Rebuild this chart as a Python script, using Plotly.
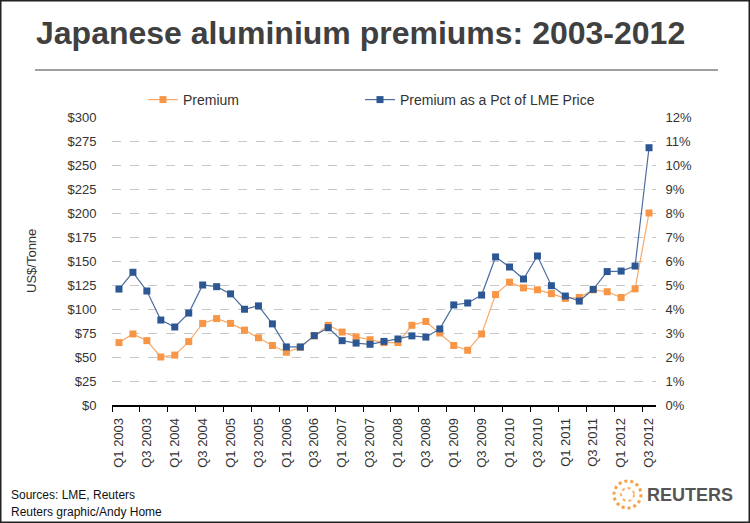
import plotly.graph_objects as go

quarters = [
    "Q1 2003", "Q2 2003", "Q3 2003", "Q4 2003",
    "Q1 2004", "Q2 2004", "Q3 2004", "Q4 2004",
    "Q1 2005", "Q2 2005", "Q3 2005", "Q4 2005",
    "Q1 2006", "Q2 2006", "Q3 2006", "Q4 2006",
    "Q1 2007", "Q2 2007", "Q3 2007", "Q4 2007",
    "Q1 2008", "Q2 2008", "Q3 2008", "Q4 2008",
    "Q1 2009", "Q2 2009", "Q3 2009", "Q4 2009",
    "Q1 2010", "Q2 2010", "Q3 2010", "Q4 2010",
    "Q1 2011", "Q2 2011", "Q3 2011", "Q4 2011",
    "Q1 2012", "Q2 2012", "Q3 2012",
]

premium_usd = [
    65, 74, 67, 50, 52, 66, 85, 90, 85, 78, 70, 62, 55,
    60, 72, 83, 76, 71, 68, 65, 65, 83, 87, 75, 62, 57,
    74, 115, 128, 122, 120, 116, 111, 112, 120, 118, 112, 121, 200,
]

premium_pct = [
    4.83, 5.53, 4.75, 3.54, 3.25, 3.83, 5.00, 4.93, 4.63, 3.99, 4.13, 3.38, 2.42,
    2.42, 2.89, 3.22, 2.68, 2.58, 2.53, 2.65, 2.75, 2.88, 2.83, 3.17, 4.17, 4.25,
    4.58, 6.17, 5.75, 5.25, 6.21, 4.97, 4.54, 4.33, 4.82, 5.56, 5.58, 5.79, 10.72,
]

usd_ticks = [0, 25, 50, 75, 100, 125, 150, 175, 200, 225, 250, 275, 300]
pct_ticks = [0, 1, 2, 3, 4, 5, 6, 7, 8, 9, 10, 11, 12]

FONT = "Liberation Sans, Arial, sans-serif"
ORANGE_M = "#F79646"
ORANGE_L = "#F8A968"
BLUE_M = "#2D5792"
BLUE_L = "#4B6E9E"

W, H = 750, 523
ML, MR, MT, MB = 112, 94, 117, 118
PW, PH = W - ML - MR, H - MT - MB


def px(x):
    return (x - ML) / PW


def py(y):
    return (H - MB - y) / PH


idx = list(range(len(quarters)))

fig = go.Figure()
fig.add_trace(go.Scatter(
    x=idx, y=premium_usd, name="Premium", mode="lines+markers",
    line=dict(color=ORANGE_L, width=1.2),
    marker=dict(symbol="square", size=7, color=ORANGE_M),
    yaxis="y", legend="legend",
))
fig.add_trace(go.Scatter(
    x=idx, y=[v / 100 for v in premium_pct], name="Premium as a Pct of LME Price",
    mode="lines+markers",
    line=dict(color=BLUE_L, width=1.2),
    marker=dict(symbol="square", size=7, color=BLUE_M),
    yaxis="y2", legend="legend2",
))

legend_common = dict(
    orientation="h", xanchor="left", yanchor="middle",
    font=dict(size=14, color="#333333"), bgcolor="rgba(0,0,0,0)",
    itemwidth=30,
)

fig.update_layout(
    width=W, height=H,
    margin=dict(l=ML, r=MR, t=MT, b=MB),
    paper_bgcolor="white", plot_bgcolor="white",
    font=dict(family=FONT, size=13, color="#333333"),
    showlegend=True,
    legend=dict(x=px(143), y=py(100), **legend_common),
    legend2=dict(x=px(360), y=py(100), **legend_common),
    xaxis=dict(
        range=[-0.5, len(quarters) - 0.5],
        tickmode="array", tickvals=idx[::2], ticktext=quarters[::2],
        tickangle=-90, ticks="outside", ticklen=6, tickcolor="rgba(0,0,0,0)",
        tickfont=dict(size=13, color="#333333"),
        showgrid=False, zeroline=False,
        showline=True, linecolor="black", linewidth=1.5,
        minor=dict(
            tickmode="array",
            tickvals=[i - 0.5 for i in idx[::2]],
            ticks="outside", ticklen=5, tickwidth=1.2, tickcolor="black",
            showgrid=False,
        ),
    ),
    yaxis=dict(
        range=[0, 300], tickmode="array", tickvals=usd_ticks,
        ticktext=["$" + str(v) for v in usd_ticks],
        ticks="outside", ticklen=12, tickcolor="rgba(0,0,0,0)",
        tickfont=dict(size=13, color="#333333"),
        showgrid=True, gridcolor="#C8C8C8", griddash="dash", gridwidth=1,
        zeroline=False, showline=False,
    ),
    yaxis2=dict(
        range=[0, 0.12], overlaying="y", side="right",
        tickmode="array", tickvals=[v / 100 for v in pct_ticks],
        ticktext=[str(v) + "%" for v in pct_ticks],
        ticks="outside", ticklen=6, tickcolor="rgba(0,0,0,0)",
        tickfont=dict(size=13, color="#333333"),
        showgrid=False, zeroline=False, showline=False,
    ),
    annotations=[
        dict(text="<b>Japanese aluminium premiums: 2003-2012</b>", xref="paper", yref="paper",
             x=px(34), y=py(33), xanchor="left", yanchor="middle", showarrow=False,
             font=dict(size=32, color="#404040", family=FONT)),
        dict(text="US$/Tonne", xref="paper", yref="paper", x=px(31), y=0.5,
             textangle=-90, showarrow=False, xanchor="center", yanchor="middle",
             font=dict(size=13, color="#333333")),
        dict(text="Sources: LME, Reuters", xref="paper", yref="paper",
             x=px(9), y=py(495), xanchor="left", yanchor="middle", showarrow=False,
             font=dict(size=12, color="#111111")),
        dict(text="Reuters graphic/Andy Home", xref="paper", yref="paper",
             x=px(9), y=py(512), xanchor="left", yanchor="middle", showarrow=False,
             font=dict(size=12, color="#111111")),
        dict(text="<b>REUTERS</b>", xref="paper", yref="paper",
             x=px(645), y=py(495), xanchor="left", yanchor="middle", showarrow=False,
             font=dict(size=18, color="#555555")),
    ],
    shapes=[
        dict(type="rect", xref="paper", yref="paper",
             x0=px(0.75), x1=px(749.25), y0=py(0.75), y1=py(522.25),
             line=dict(color="#222222", width=1.5)),
        dict(type="line", xref="paper", yref="paper",
             x0=px(35), x1=px(718), y0=py(70), y1=py(70),
             line=dict(color="#404040", width=1)),
        dict(type="circle", xref="paper", yref="paper",
             x0=px(614), x1=px(641), y0=py(481), y1=py(508),
             line=dict(color="#F4A24C", width=3, dash="dot")),
        dict(type="circle", xref="paper", yref="paper",
             x0=px(621), x1=px(634), y0=py(488), y1=py(501),
             fillcolor="rgba(0,0,0,0)",
             line=dict(color="#F7B267", width=2, dash="dot")),
    ],
)

fig.write_html("out.html")
